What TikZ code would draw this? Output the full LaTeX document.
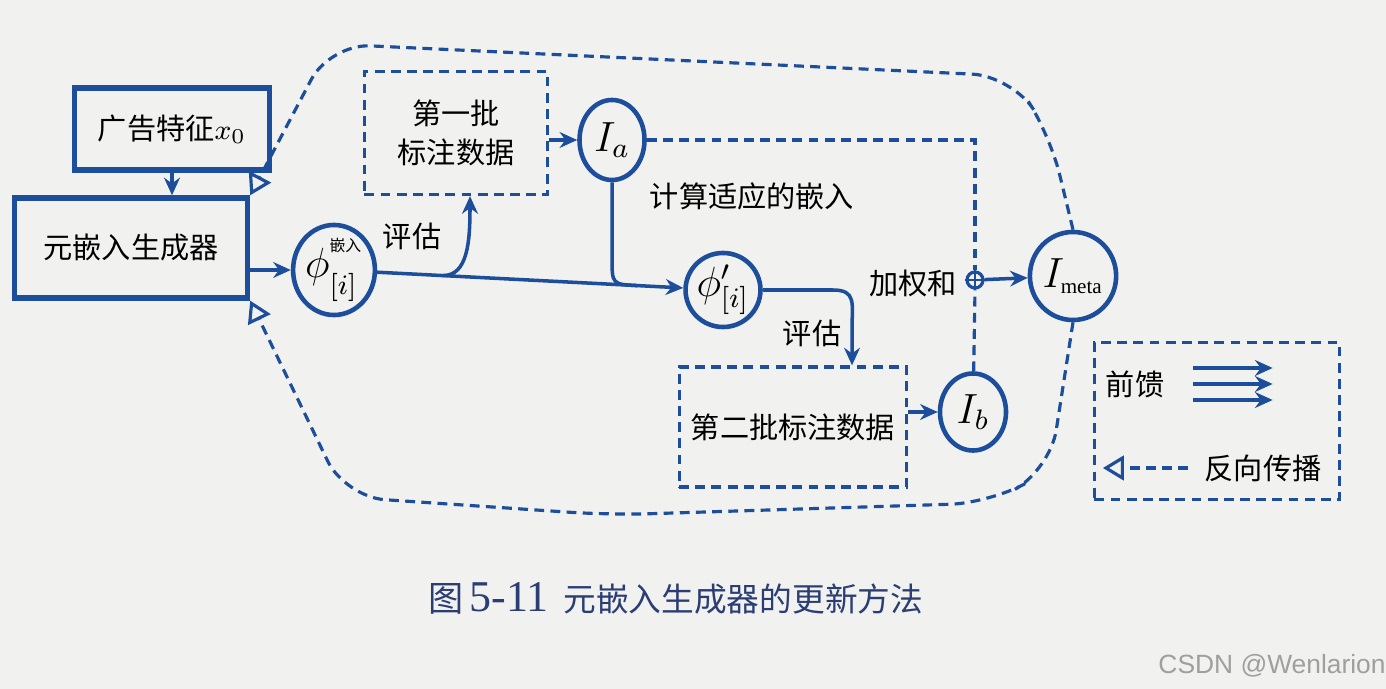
\documentclass[tikz,border=0pt]{standalone}
\usepackage{fontspec}
\setmainfont{Liberation Serif}
\newfontfamily\cjk{Noto Sans CJK SC}
\usetikzlibrary{positioning,calc,arrows.meta,shapes.geometric}
\definecolor{bookblue}{HTML}{1D4E9B}
\definecolor{paper}{HTML}{F1F1EF}
\definecolor{captionblue}{HTML}{2A3E74}

\begin{document}
\begin{tikzpicture}[x=0.01cm, y=-0.01cm,
  box/.style={
    draw=bookblue, line width=1.5pt, align=center,
    font=\cjk\fontsize{8.3}{10}\selectfont
  },
  databox/.style={
    draw=bookblue, line width=0.9pt, dash pattern=on 2.8pt off 1.8pt,
    align=center, font=\cjk\fontsize{8.3}{11}\selectfont
  },
  var/.style={
    ellipse, draw=bookblue, line width=1.3pt, inner sep=0pt,
    font=\fontsize{12}{13}\selectfont
  },
  arr/.style={-{Stealth[length=5pt,width=4.5pt]}, line width=1pt, draw=bookblue},
  link/.style={line width=1pt, draw=bookblue},
  dline/.style={line width=0.9pt, draw=bookblue, dash pattern=on 2.8pt off 1.8pt},
  hollow/.style={-{Triangle[open,length=6pt,width=7pt,line width=0.9pt]}},
  back/.style={dline, hollow, rounded corners=0.4cm},
  lbl/.style={font=\cjk\fontsize{8.3}{10}\selectfont}
]
% page
\fill[paper] (0,0) rectangle (1386,689);
\useasboundingbox (0,0) rectangle (1386,689);

% generator side
\node[box, minimum width=1.95cm, minimum height=0.82cm] (feat) at (172,129) {广告特征$x_{0}$};
\node[box, minimum width=2.33cm, minimum height=1.0cm] (gen) at (131,248) {元嵌入生成器};
\draw[arr] (feat.south) -- (feat.south |- gen.north);

% embeddings and losses
\node[var, minimum width=0.76cm, minimum height=0.84cm] (phi) at (334,270)
  {$\phi^{\raisebox{3pt}{\cjk\fontsize{4.5}{5}\selectfont 嵌入}}_{\raisebox{-2pt}{$\scriptstyle[i]$}}$};
\node[var, minimum width=0.70cm, minimum height=0.74cm] (phi2) at (723,290) {$\phi'_{[i]}$};
\node[var, minimum width=0.65cm, minimum height=0.80cm] (Ia) at (612,140) {$I_a$};
\node[var, minimum width=0.66cm, minimum height=0.77cm] (Ib) at (973,412) {$I_b$};
\node[var, minimum width=0.66cm, minimum height=0.88cm] (meta) at (1073,276)
  {$I_{\mathrm{\scriptscriptstyle meta}}$};
\node[circle, draw=bookblue, line width=0.9pt, minimum size=0.16cm, inner sep=0pt] (plus) at (975,280) {};
\draw[bookblue, line width=0.7pt] (plus.north) -- (plus.south) (plus.west) -- (plus.east);

% data batches
\node[databox, minimum width=1.83cm, minimum height=1.23cm] (batch1) at (456,133) {第一批\\标注数据};
\node[databox, minimum width=2.23cm, minimum height=1.20cm] (batch2) at (793,427) {第二批标注数据};

% feed forward
\draw[arr] (gen.east |- phi) -- (phi);
\draw[arr] (phi) -- (phi2);
\coordinate (up) at ($(phi)!0.28!(phi2)$);
\coordinate (merge) at ($(phi)!0.78!(phi2)$);
\draw[arr] (up) .. controls ($(up)+(25,0)$) and ($(batch1.south)+(14,45)$) .. ($(batch1.south)+(14,0)$);
\draw[arr] (batch1.east |- Ia) -- (Ia);
\draw[link] (Ia.south) -- ($(Ia.south)+(0,75)$) .. controls ($(Ia.south)+(0,102)$) .. (merge);
\draw[arr] (phi2.east) -- ($(phi2.east)+(70,0)$)
  .. controls ($(phi2.east)+(94,0)$) and ($(batch2.north)+(59,-62)$) .. ($(batch2.north)+(59,-36)$)
  -- ($(batch2.north)+(59,0)$);
\draw[arr] (batch2.east |- Ib) -- (Ib);
\draw[dline] (Ia.east) -| (plus.north);
\draw[dline] (Ib) -- (plus.south);
\draw[arr] (plus) -- (meta);

\node[lbl] at (412,236) {评估};
\node[lbl] at (752,196) {计算适应的嵌入};
\node[lbl] at (812,333) {评估};
\node[lbl] at (913,283) {加权和};

% back propagation
\draw[back] (meta.north) -- (1050,135) -- (1012,76) -- (330,44) -- (gen.north east);
\draw[back] (meta.south) -- (1050,470) -- (990,503) -- (610,515) -- (345,497) -- (gen.south east);

% legend
\node[databox, minimum width=2.45cm, minimum height=1.57cm] (legend) at (1217,421) {};
\node[lbl] (ff) at (1135,384) {前馈};
\foreach \dy in {-16,0,16}
  \draw[arr] ($(ff.east)+(16,\dy)$) -- ++(80,0);
\node[lbl] (bp) at (1263,468) {反向传播};
\draw[dline, hollow] ($(bp.west)+(-4,0)$) -- ($(legend.west |- bp)+(10,0)$);

% caption
\node[text=captionblue, anchor=west] (cap) at (416,598)
  {{\cjk\fontsize{10}{12}\selectfont 图}\,{\fontsize{12.5}{14}\selectfont 5-11}\hspace{0.15cm}{\cjk\fontsize{9.3}{12}\selectfont 元嵌入生成器的更新方法}};
\node[text=gray!75, font=\fontspec{Liberation Sans}\fontsize{7.5}{9}\selectfont] (mark) at (1272,666) {CSDN @Wenlarion};
\end{tikzpicture}
\end{document}
